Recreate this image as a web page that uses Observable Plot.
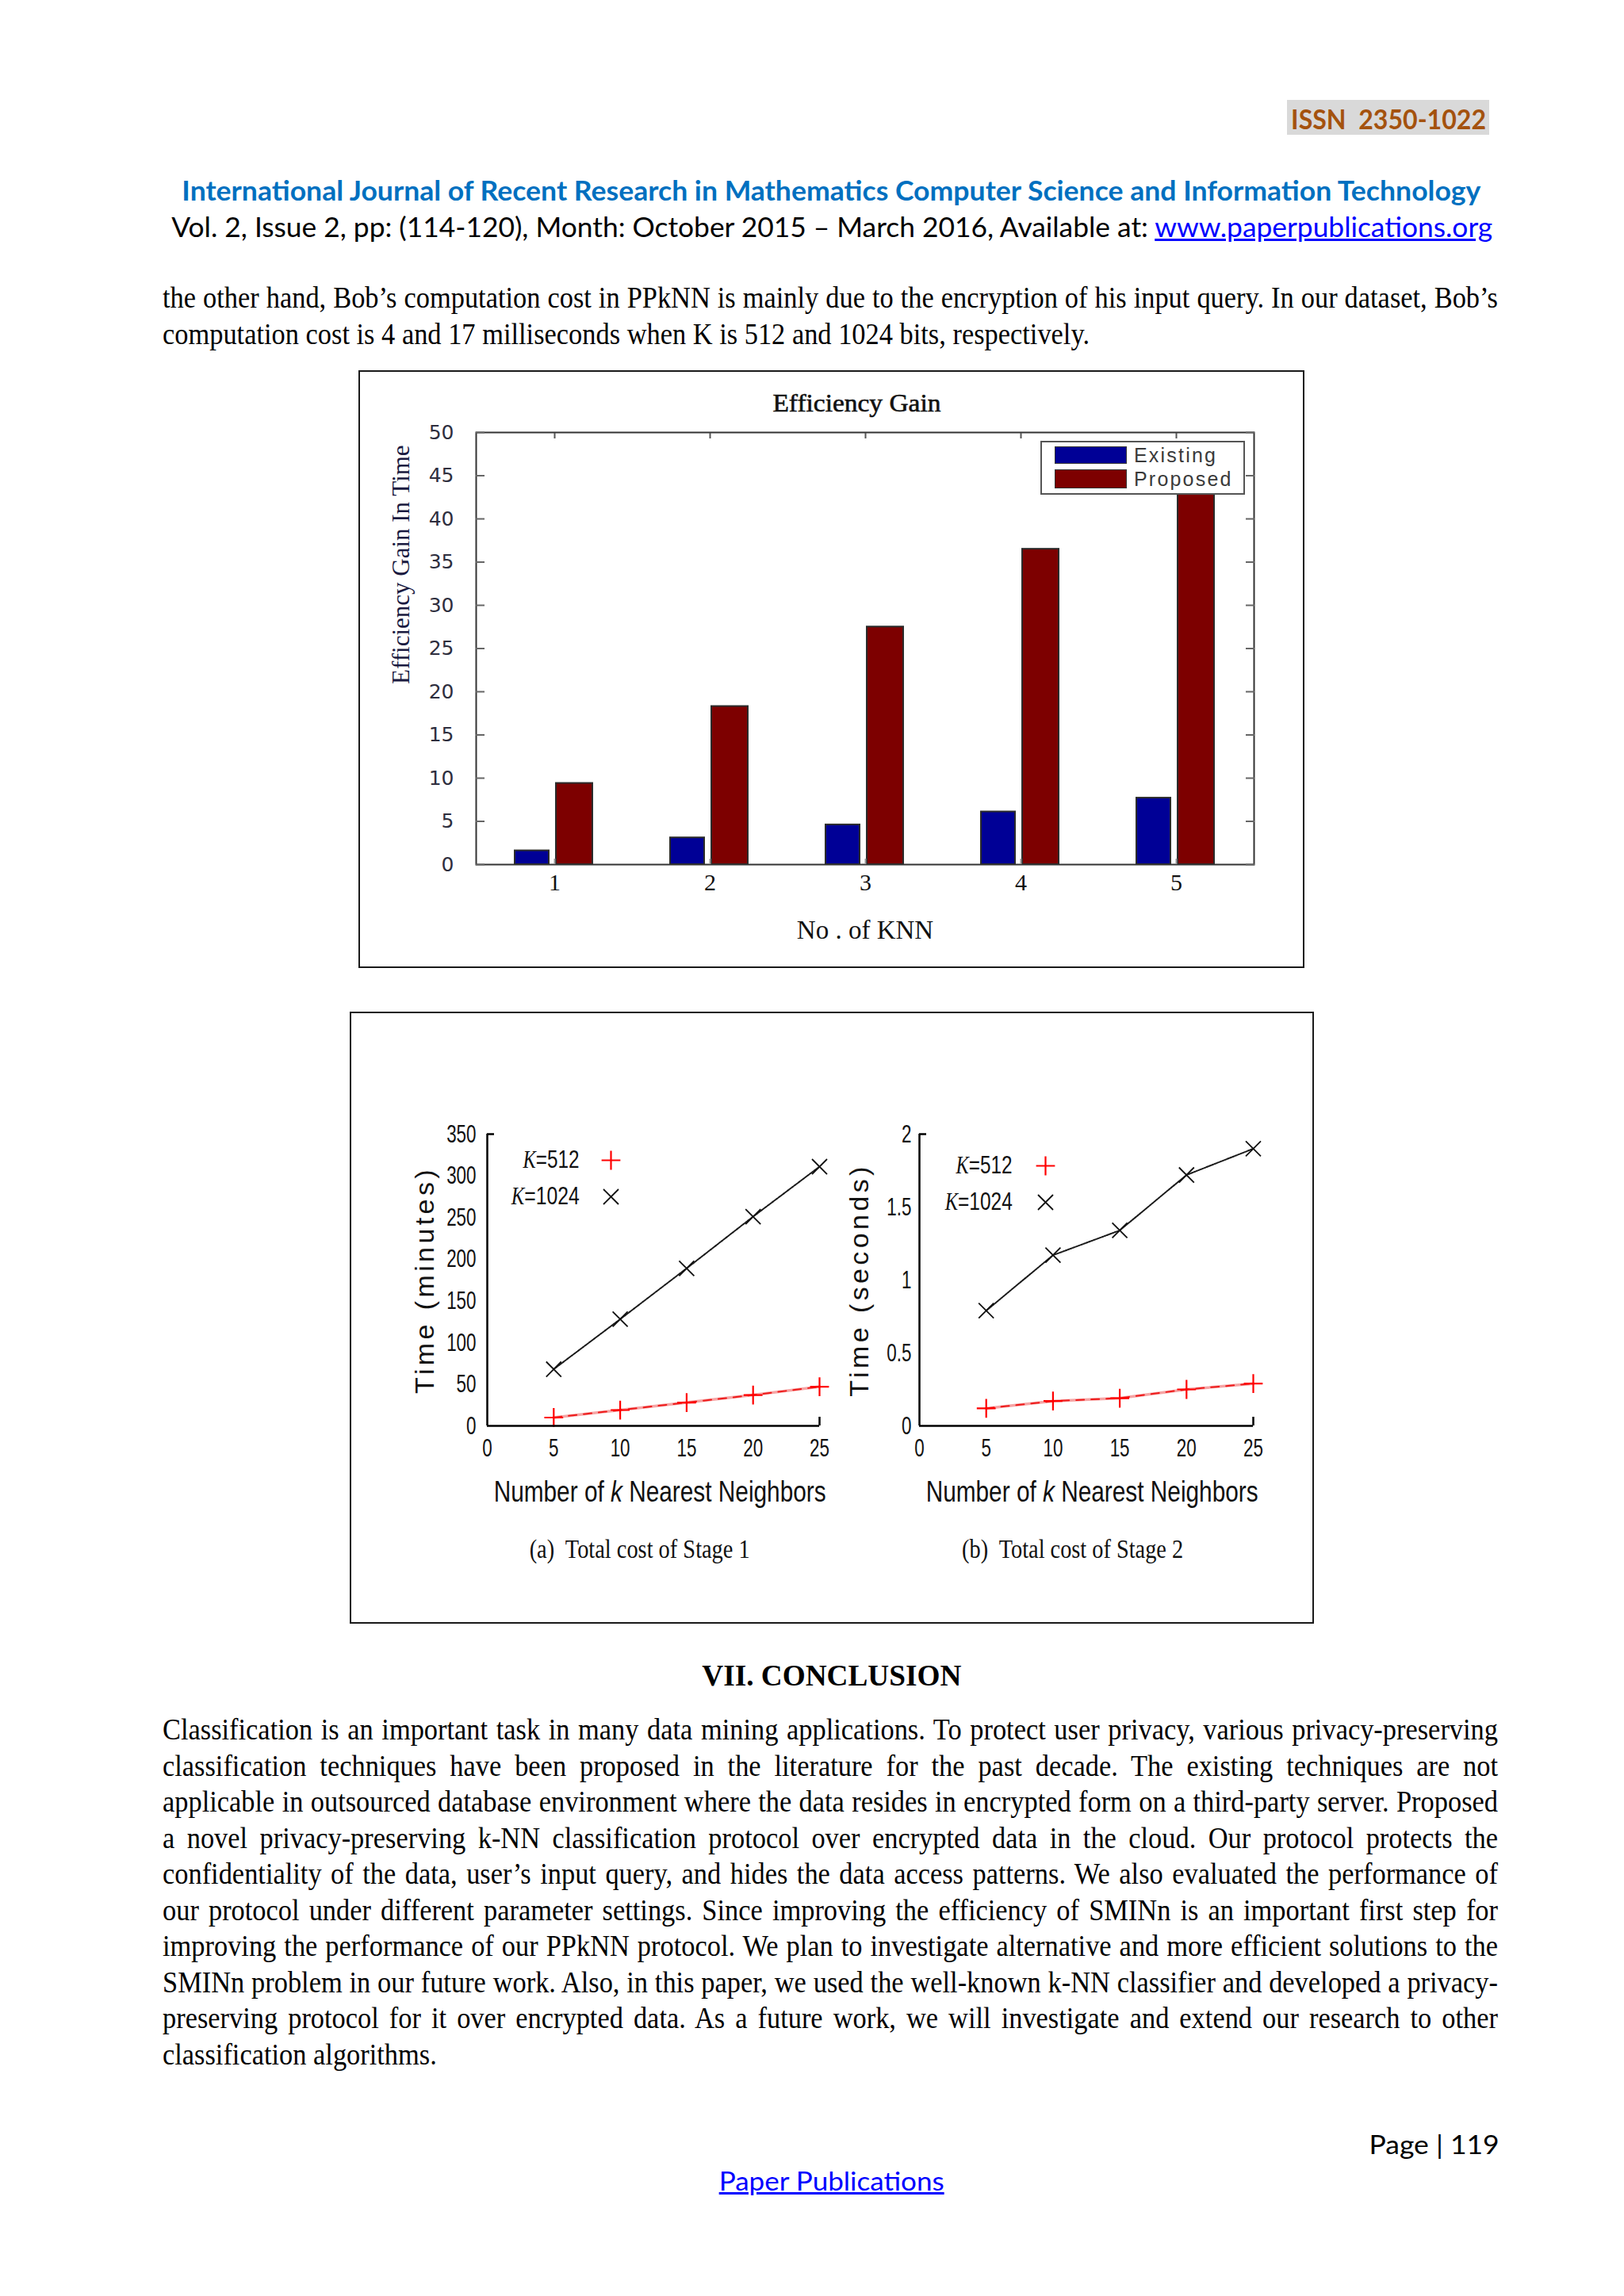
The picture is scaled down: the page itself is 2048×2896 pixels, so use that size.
<!DOCTYPE html>
<html><head><meta charset="utf-8">
<script src="https://cdn.jsdelivr.net/npm/d3@7"></script>
<script src="https://cdn.jsdelivr.net/npm/@observablehq/plot@0.6"></script>
<style>
html,body{margin:0;padding:0;background:#fff;}
#page{position:relative;width:2048px;height:2896px;overflow:hidden;background:#fff;}
.abs{position:absolute;white-space:pre;}
.serif{font-family:"Liberation Serif","Times New Roman",serif;color:#000;}
.cal{font-family:Lato,"Open Sans",sans-serif;}
.narrow{font-family:"Liberation Sans",Arial,sans-serif;color:#111;}
.box{position:absolute;border:2px solid #1a1a1a;background:#fff;box-sizing:border-box;}
#c2 g[aria-label="y-axis label"] text{letter-spacing:4.4px;}
</style></head><body><div id="page"></div>
<script>
// ---------- chart data ----------
const knnCount = [1, 2, 3, 4, 5];
const existingGain = [1.6, 3.1, 4.6, 6.1, 7.7];
const proposedGain = [9.4, 18.3, 27.5, 36.5, 45.6];
const gainTicks = [0, 5, 10, 15, 20, 25, 30, 35, 40, 45, 50];
const seriesNames = ["Existing", "Proposed"];
const seriesColors = ["#000096", "#7d0000"];

const neighbors = [5, 10, 15, 20, 25];
const stage1K512 = [10, 19, 28, 37, 47];
const stage1K1024 = [68, 128, 189, 251, 311];
const stage2K512 = [0.12, 0.17, 0.19, 0.25, 0.29];
const stage2K1024 = [0.79, 1.17, 1.34, 1.72, 1.9];
const stage1Ticks = [0, 50, 100, 150, 200, 250, 300, 350];
const stage2Ticks = [0, 0.5, 1, 1.5, 2];
const neighborTicks = [0, 5, 10, 15, 20, 25];
const keyLabels = ["=512", "=1024"];

// ---------- page text ----------
const bodyTop = [
  "the other hand, Bob’s computation cost in PPkNN is mainly due to the encryption of his input query. In our dataset, Bob’s",
  "computation cost is 4 and 17 milliseconds when K is 512 and 1024 bits, respectively."
];
const conclusion = [
  "Classification is an important task in many data mining applications. To protect user privacy, various privacy-preserving",
  "classification techniques have been proposed in the literature for the past decade. The existing techniques are not",
  "applicable in outsourced database environment where the data resides in encrypted form on a third-party server. Proposed",
  "a novel privacy-preserving k-NN classification protocol over encrypted data in the cloud. Our protocol protects the",
  "confidentiality of the data, user’s input query, and hides the data access patterns. We also evaluated the performance of",
  "our protocol under different parameter settings. Since improving the efficiency of SMINn is an important first step for",
  "improving the performance of our PPkNN protocol. We plan to investigate alternative and more efficient solutions to the",
  "SMINn problem in our future work. Also, in this paper, we used the well-known k-NN classifier and developed a privacy-",
  "preserving protocol for it over encrypted data. As a future work, we will investigate and extend our research to other",
  "classification algorithms."
];

const page = document.getElementById("page");

function place(html, o) {
  const d = document.createElement("div");
  d.className = "abs " + (o.cls || "");
  const lh = o.lh || 60;
  d.style.lineHeight = lh + "px";
  d.style.top = (o.cy - lh / 2) + "px";
  if (o.size) d.style.fontSize = o.size + "px";
  const s = document.createElement("span");
  s.style.display = "inline-block";
  s.innerHTML = html;
  if (o.css) s.style.cssText += o.css;
  d.appendChild(s);
  page.appendChild(d);
  if (o.cx != null) { d.style.left = (o.cx - 1500) + "px"; d.style.width = "3000px"; d.style.textAlign = "center"; s.style.transformOrigin = "50% 50%"; }
  else if (o.right != null) { d.style.left = (o.right - 3000) + "px"; d.style.width = "3000px"; d.style.textAlign = "right"; s.style.transformOrigin = "100% 50%"; }
  else { d.style.left = o.left + "px"; s.style.transformOrigin = "0 50%"; }
  if (o.fit) { const w = s.getBoundingClientRect().width; s.style.transform = `scaleX(${o.fit / w})`; }
  return s;
}

// squeeze SVG tick labels horizontally (narrow-font look) using textLength
function condense(svg, factor) {
  svg.querySelectorAll('g[aria-label="y-axis tick label"] text, g[aria-label="x-axis tick label"] text').forEach(t => {
    const w = t.getComputedTextLength();
    if (w > 0) {
      t.setAttribute("textLength", (w * factor).toFixed(2));
      t.setAttribute("lengthAdjust", "spacingAndGlyphs");
    }
  });
}

// header
const issn = document.createElement("div");
issn.style.cssText = "position:absolute;left:1623px;top:126px;width:255px;height:44px;background:#d9d9d9;";
page.appendChild(issn);
place("ISSN&nbsp; 2350-1022", {cx: 1751, cy: 149, lh: 44, size: 35, cls: "cal", css: "font-weight:700;color:#a4520e;", fit: 246});
place("International Journal of Recent Research in Mathematics Computer Science and Information Technology",
  {cx: 1048, cy: 240, lh: 46, size: 34, cls: "cal", css: "font-weight:700;color:#0070c0;", fit: 1638});
place("Vol. 2, Issue 2, pp: (114-120), Month: October 2015 – March 2016, Available at: <span style=\"color:#0000ff;text-decoration:underline;\">www.paperpublications.org</span>",
  {cx: 1049, cy: 286, lh: 46, size: 34, cls: "cal", css: "color:#000;", fit: 1666});

// body lines (compressed Times, justified)
function bodyLines(lines, y0, step, lastLeft) {
  return lines.map((t, i) => {
    const s = place(t, {left: 205, cy: y0 + i * step, lh: 46, size: 38, cls: "serif"});
    return {s, t, justify: !(lastLeft && i === lines.length - 1)};
  });
}
const top2 = bodyLines(bodyTop, 375, 46, true);
const conc = bodyLines(conclusion, 2181, 45.5, true);
const sc = 1169 / top2[1].s.getBoundingClientRect().width;
[...top2, ...conc].forEach(({s, t, justify}) => {
  const w = s.getBoundingClientRect().width;
  if (justify) {
    const n = (t.match(/ /g) || []).length;
    s.style.wordSpacing = ((1684 / sc - w) / n) + "px";
  }
  s.style.transform = `scaleX(${sc})`;
});
place("VII. CONCLUSION", {cx: 1049, cy: 2113, lh: 46, size: 38, cls: "serif", css: "font-weight:700;", fit: 327});

// footer
place("Page | 119", {right: 1891, cy: 2704, lh: 46, size: 33, cls: "cal", css: "color:#000;", fit: 164});
place("Paper Publications", {cx: 1049, cy: 2750, lh: 46, size: 33, cls: "cal", css: "color:#0000ff;text-decoration:underline;", fit: 284});

// ---------- chart 1: Efficiency Gain ----------
const box1 = document.createElement("div");
box1.className = "box"; box1.id = "c1";
box1.style.cssText += "left:452px;top:467px;width:1193px;height:754px;";
page.appendChild(box1);

const existingRows = knnCount.map((k, i) => ({k, v: existingGain[i], series: seriesNames[0]}));
const proposedRows = knnCount.map((k, i) => ({k, v: proposedGain[i], series: seriesNames[1]}));

const chart1 = Plot.plot({
  width: 1189, height: 750,
  marginTop: 76, marginRight: 62, marginBottom: 129, marginLeft: 146,
  style: {background: "transparent", color: "#222", overflow: "visible"},
  x: {type: "band", domain: knnCount, padding: 0},
  y: {type: "linear", domain: [0, 50]},
  marks: [
    Plot.barY(existingRows, {x: "k", y: "v", fill: seriesColors[0], stroke: "#2b2b2b", strokeWidth: 2, insetLeft: 48, insetRight: 105}),
    Plot.barY(proposedRows, {x: "k", y: "v", fill: seriesColors[1], stroke: "#2b2b2b", strokeWidth: 2, insetLeft: 100, insetRight: 50}),
    Plot.frame({stroke: "#333", strokeWidth: 2}),
    Plot.axisY({anchor: "left", ticks: gainTicks, tickSize: 0, tickPadding: 28, fontFamily: "DejaVu Sans", fontSize: 25, fill: "#2e2e3e", label: null}),
    Plot.axisY({anchor: "left", ticks: gainTicks, tickSize: -11, fill: "none", stroke: "#666", strokeWidth: 2, label: null}),
    Plot.axisY({anchor: "right", ticks: gainTicks, tickSize: -11, fill: "none", stroke: "#666", strokeWidth: 2, label: null}),
    Plot.text(["Efficiency Gain In Time"], {frameAnchor: "left", rotate: -90, dx: -94, dy: 45, fontFamily: "Liberation Serif", fontSize: 31, fill: "#1a1a40"}),
    Plot.axisX({anchor: "bottom", tickSize: 0, tickPadding: 11, fontFamily: "Liberation Serif", fontSize: 30, fill: "#111", label: "No . of KNN", labelAnchor: "center", labelOffset: 93, labelArrow: false}),
    Plot.axisX({anchor: "top", tickSize: -7, fill: "none", stroke: "#555", strokeWidth: 2, label: null}),
    Plot.axisX({anchor: "bottom", tickSize: -7, fill: "none", stroke: "#999", strokeWidth: 2, label: null})
  ]
});
box1.appendChild(chart1);
chart1.querySelectorAll('g[aria-label="x-axis label"] text').forEach(t => t.setAttribute("font-size", "33"));
place("Efficiency Gain", {cx: 1080, cy: 508, lh: 40, size: 32, cls: "serif", css: "color:#111;-webkit-text-stroke:0.6px #111;", fit: 212});

// legend for chart 1
const leg = document.createElement("div");
leg.style.cssText = "position:absolute;left:1312px;top:556px;width:258px;height:68px;border:2px solid #555;background:#fff;box-sizing:border-box;";
page.appendChild(leg);
seriesNames.forEach((name, i) => {
  const sw = document.createElement("div");
  sw.style.cssText = `position:absolute;left:16px;top:${i ? 34 : 5}px;width:91px;height:${i ? 24 : 22}px;background:${seriesColors[i]};border:1.5px solid #333;box-sizing:border-box;`;
  leg.appendChild(sw);
  const tx = document.createElement("div");
  tx.textContent = name;
  tx.style.cssText = `position:absolute;left:116px;top:${i ? 31 : 1}px;line-height:30px;font-family:'Liberation Sans',Arial,sans-serif;font-size:25px;letter-spacing:2.2px;color:#3a3a3a;`;
  leg.appendChild(tx);
});

// ---------- chart 2: two line plots ----------
const box2 = document.createElement("div");
box2.className = "box"; box2.id = "c2";
box2.style.cssText += "left:441px;top:1276px;width:1216px;height:772px;";
page.appendChild(box2);

const tickFont = "'Liberation Sans',Arial,sans-serif";

function linePlot({y512, y1024, yTicks, yLabel, width, marginLeft, marginRight, tickPadding, labelOffset, legendDx, legendDy}) {
  const rowsA = neighbors.map((k, i) => ({k, t: y512[i]}));
  const rowsB = neighbors.map((k, i) => ({k, t: y1024[i]}));
  const yMax = yTicks[yTicks.length - 1];
  return Plot.plot({
    width, height: 580,
    marginTop: 152, marginBottom: 60, marginLeft, marginRight,
    style: {background: "transparent", color: "#111", overflow: "visible"},
    x: {type: "linear", domain: [0, 25]},
    y: {type: "linear", domain: [0, yMax]},
    marks: [
      Plot.line(rowsA, {x: "k", y: "t", stroke: "#f6a5a5", strokeWidth: 3.5}),
      Plot.line(rowsA, {x: "k", y: "t", stroke: "#ee1c1c", strokeWidth: 2, strokeDasharray: "10,9"}),
      Plot.line(rowsB, {x: "k", y: "t", stroke: "#1a1a1a", strokeWidth: 2, strokeDasharray: "2,1.5"}),
      Plot.dot(rowsA, {x: "k", y: "t", symbol: "plus", r: 7.7, stroke: "#ff0000", strokeWidth: 2.2}),
      Plot.dot(rowsB, {x: "k", y: "t", symbol: "times", r: 8.7, stroke: "#111", strokeWidth: 1.8}),
      Plot.ruleX([0], {stroke: "#000", strokeWidth: 2.5}),
      Plot.ruleY([0], {stroke: "#000", strokeWidth: 2.5}),
      Plot.axisY({ticks: yTicks, tickSize: 0, tickPadding, tickFormat: d => String(d), fontFamily: tickFont, fontSize: 32, fill: "#111", label: null}),
      Plot.axisY({ticks: [yMax], tickSize: -9, fill: "none", stroke: "#000", strokeWidth: 2.5, label: null}),
      Plot.axisY({ticks: [], tickSize: 0, label: yLabel, labelAnchor: "center", labelOffset, labelArrow: false, fontFamily: "'Liberation Sans',Arial,sans-serif", fontSize: 34, fill: "#111"}),
      Plot.axisX({ticks: neighborTicks, tickSize: 0, tickPadding: 16, fontFamily: tickFont, fontSize: 32, fill: "#111", label: null}),
      Plot.axisX({ticks: [25], tickSize: -11, fill: "none", stroke: "#000", strokeWidth: 2.5, label: null}),
      Plot.dot([keyLabels[0]], {frameAnchor: "top-left", dx: legendDx, dy: legendDy[0], symbol: "plus", r: 7.7, stroke: "#ff0000", strokeWidth: 2.2}),
      Plot.dot([keyLabels[1]], {frameAnchor: "top-left", dx: legendDx, dy: legendDy[1], symbol: "times", r: 8.7, stroke: "#111", strokeWidth: 1.8})
    ]
  });
}

const p1 = linePlot({y512: stage1K512, y1024: stage1K1024, yTicks: stage1Ticks, yLabel: "Time (minutes)",
  width: 617, marginLeft: 171, marginRight: 27, tickPadding: 14, labelOffset: 92, legendDx: 156, legendDy: [33, 79]});
const p2 = linePlot({y512: stage2K512, y1024: stage2K1024, yTicks: stage2Ticks, yLabel: "Time (seconds)",
  width: 595, marginLeft: 99, marginRight: 75, tickPadding: 10, labelOffset: 89, legendDx: 159, legendDy: [40, 86]});
p1.style.position = "absolute"; p1.style.left = "0px"; p1.style.top = "0px";
p2.style.position = "absolute"; p2.style.left = "617px"; p2.style.top = "0px";
box2.appendChild(p1); box2.appendChild(p2);
condense(p1, 0.7);
condense(p2, 0.7);

const italicK = "<i style=\"font-family:'Liberation Serif',serif;\">K</i>";
place(italicK + keyLabels[0], {right: 731, cy: 1463, lh: 40, size: 31, cls: "narrow", fit: 71});
place(italicK + keyLabels[1], {right: 731, cy: 1509, lh: 40, size: 31, cls: "narrow", fit: 86});
place(italicK + keyLabels[0], {right: 1277, cy: 1470, lh: 40, size: 31, cls: "narrow", fit: 71});
place(italicK + keyLabels[1], {right: 1277, cy: 1516, lh: 40, size: 31, cls: "narrow", fit: 85});

const xTitle = "Number of <i>k</i> Nearest Neighbors";
place(xTitle, {cx: 832, cy: 1882, lh: 44, size: 37, cls: "narrow", fit: 419});
place(xTitle, {cx: 1377, cy: 1882, lh: 44, size: 37, cls: "narrow", fit: 419});
place("(a)&nbsp; Total cost of Stage 1", {cx: 807, cy: 1954, lh: 44, size: 33, cls: "serif", css: "color:#111;", fit: 278});
place("(b)&nbsp; Total cost of Stage 2", {cx: 1353, cy: 1954, lh: 44, size: 33, cls: "serif", css: "color:#111;", fit: 279});
</script></body></html>
